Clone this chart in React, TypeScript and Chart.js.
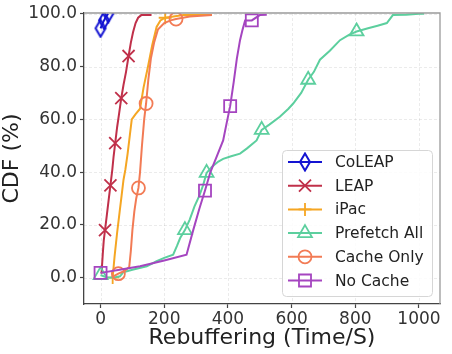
import React, { useEffect, useRef } from "react";
import { Chart, registerables } from "chart.js";

Chart.register(...registerables);

// ---------- data ----------
const seriesNames = ["CoLEAP", "LEAP", "iPac", "Prefetch All", "Cache Only", "No Cache"];

const coleapX = [0, 5, 11, 17, 24];
const coleapY = [94.5, 96, 97.5, 99, 100];

const leapX = [3, 7, 10, 14, 20, 26, 31, 37, 41, 46, 52, 58, 65, 72, 80, 88, 95, 102, 110, 118, 128, 160];
const leapY = [1.5, 9, 14, 18, 24, 30, 35, 41, 46, 51, 57, 62, 68, 73, 78, 84, 89, 93, 96.5, 98.5, 99.5, 99.5];

const ipacX = [38, 44, 52, 60, 66, 72, 78, 85, 92, 98, 110, 124, 135, 149, 162, 176, 188, 203, 260, 350];
const ipacY = [0, 8, 17, 25, 31, 37, 41, 47, 54, 60, 62, 64, 72, 80, 88, 95, 97.5, 98.5, 99.5, 99.5];

const prefetchX = [0, 20, 40, 61, 71, 100, 145, 176, 200, 228, 240, 250, 265, 280, 295, 310, 322, 333, 350, 370, 385, 410, 438, 460, 490, 506, 530, 563, 590, 605, 630, 652, 670, 689, 720, 752, 780, 804, 840, 870, 899, 918, 960, 1000, 1016];
const prefetchY = [1, 0, 0, 0.5, 2, 3, 4.3, 6.2, 7.5, 8.7, 12, 15, 18, 22, 27, 31, 35, 39.7, 42, 44, 45, 46, 47, 49, 52, 56, 58, 61, 64, 66, 70, 75, 78, 82.6, 86, 90, 92, 93.3, 94.5, 95.5, 96.5, 99.5, 99.6, 100, 100];

const cacheOnlyX = [40, 56, 75, 90, 95, 100, 106, 112, 119, 124, 130, 137, 143, 150, 158, 168, 180, 200, 220, 237, 280, 350];
const cacheOnlyY = [0.5, 1.5, 2.5, 4, 10, 18, 25, 30, 34, 40, 50, 60, 66, 75, 83, 89, 94, 96.5, 97.5, 98, 99, 99.5];

const noCacheX = [0, 60, 124, 200, 270, 291, 310, 328, 345, 365, 385, 395, 407, 418, 428, 438, 446, 454, 475, 500, 522];
const noCacheY = [1.8, 3, 4.3, 6.5, 8.7, 18, 26, 33, 40, 46, 52, 58, 65, 74, 83, 90, 94, 97.5, 97.5, 99.5, 99.6];

// which points carry a marker (markevery-like)
const coleapMarks = [0, 2, 4];
const leapMarks = [3, 6, 9, 12, 15];
const ipacMarks = [0, 17];
const prefetchMarks = [0, 12, 17, 25, 31, 37];
const cacheOnlyMarks = [1, 8, 12, 19];
const noCacheMarks = [0, 7, 12, 18];

const xTicks = [0, 200, 400, 600, 800, 1000];
const yTicks = [0, 20, 40, 60, 80, 100];

// ---------- styles ----------
const colors = ["#1414d2", "#c0304a", "#f5a623", "#5ccf9e", "#f27b55", "#a545c0"];
const FONT = "'DejaVu Sans', sans-serif";

function makeDiamond(color: string): HTMLCanvasElement {
  const c = document.createElement("canvas");
  c.width = 14;
  c.height = 20;
  const g = c.getContext("2d")!;
  g.strokeStyle = color;
  g.lineWidth = 2;
  g.beginPath();
  g.moveTo(7, 1.5);
  g.lineTo(12, 10);
  g.lineTo(7, 18.5);
  g.lineTo(2, 10);
  g.closePath();
  g.stroke();
  return c;
}

function drawMarker(ctx: CanvasRenderingContext2D, style: any, x: number, y: number, r: number, color: string) {
  ctx.save();
  ctx.strokeStyle = color;
  ctx.lineWidth = 1.8;
  ctx.beginPath();
  if (typeof style === "object") {
    ctx.drawImage(style, x - style.width / 2, y - style.height / 2);
    ctx.restore();
    return;
  }
  if (style === "circle") {
    ctx.arc(x, y, r, 0, Math.PI * 2);
  } else if (style === "rect") {
    const s = Math.SQRT1_2 * r;
    ctx.rect(x - s, y - s, 2 * s, 2 * s);
  } else if (style === "triangle") {
    ctx.moveTo(x, y - r);
    ctx.lineTo(x + r * Math.sin(Math.PI / 3), y + r * 0.5);
    ctx.lineTo(x - r * Math.sin(Math.PI / 3), y + r * 0.5);
    ctx.closePath();
  } else if (style === "cross") {
    ctx.moveTo(x, y - r);
    ctx.lineTo(x, y + r);
    ctx.moveTo(x - r, y);
    ctx.lineTo(x + r, y);
  } else if (style === "crossRot") {
    const d = r * Math.SQRT1_2;
    ctx.moveTo(x - d, y - d);
    ctx.lineTo(x + d, y + d);
    ctx.moveTo(x + d, y - d);
    ctx.lineTo(x - d, y + d);
  }
  ctx.stroke();
  ctx.restore();
}

export default function App() {
  const ref = useRef<HTMLCanvasElement | null>(null);

  useEffect(() => {
    if (!ref.current) return;
    const diamond = makeDiamond(colors[0]);
    const markerStyles: any[] = [diamond, "crossRot", "cross", "triangle", "circle", "rect"];
    const markerRadii = [7, 8.5, 6.5, 8, 6.5, 8.5];
    const xs = [coleapX, leapX, ipacX, prefetchX, cacheOnlyX, noCacheX];
    const ys = [coleapY, leapY, ipacY, prefetchY, cacheOnlyY, noCacheY];
    const marks = [coleapMarks, leapMarks, ipacMarks, prefetchMarks, cacheOnlyMarks, noCacheMarks];

    const datasets = seriesNames.map((name, k) => ({
      label: name,
      data: xs[k].map((x, i) => ({ x, y: ys[k][i] })),
      showLine: true,
      borderColor: colors[k],
      borderWidth: 2,
      backgroundColor: "rgba(0,0,0,0)",
      pointBorderColor: colors[k],
      pointBackgroundColor: "rgba(0,0,0,0)",
      pointBorderWidth: 1.8,
      pointStyle: xs[k].map((_, i) => (marks[k].includes(i) ? markerStyles[k] : "circle")),
      pointRadius: xs[k].map((_, i) => (marks[k].includes(i) ? markerRadii[k] : 0)),
      pointHoverRadius: 0,
      tension: 0,
      order: seriesNames.length - k,
    }));

    const gridPlugin = {
      id: "mplGrid",
      beforeDatasetsDraw(chart: any) {
        const { ctx, chartArea: a, scales } = chart;
        ctx.save();
        ctx.strokeStyle = "rgba(0,0,0,0.10)";
        ctx.lineWidth = 0.8;
        ctx.setLineDash([3, 2]);
        xTicks.forEach((v) => {
          const px = Math.round(scales.x.getPixelForValue(v)) + 0.5;
          ctx.beginPath();
          ctx.moveTo(px, a.top);
          ctx.lineTo(px, a.bottom);
          ctx.stroke();
        });
        yTicks.forEach((v) => {
          const py = Math.round(scales.y.getPixelForValue(v)) + 0.5;
          ctx.beginPath();
          ctx.moveTo(a.left, py);
          ctx.lineTo(a.right, py);
          ctx.stroke();
        });
        ctx.restore();
      },
    };

    const framePlugin = {
      id: "frameLegend",
      afterDraw(chart: any) {
        const { ctx, chartArea: a } = chart;
        ctx.save();
        // top & right spines
        ctx.strokeStyle = "#9a9a9a";
        ctx.lineWidth = 1.3;
        ctx.beginPath();
        ctx.moveTo(a.left, a.top);
        ctx.lineTo(a.right, a.top);
        ctx.lineTo(a.right, a.bottom);
        ctx.stroke();

        // legend box
        const w = 150;
        const h = 146;
        const lx = a.right - 8 - w;
        const ly = a.bottom - 8 - h;
        ctx.fillStyle = "rgba(255,255,255,0.85)";
        ctx.strokeStyle = "#d6d6d6";
        ctx.lineWidth = 1;
        ctx.beginPath();
        (ctx as any).roundRect(lx + 0.5, ly + 0.5, w, h, 4);
        ctx.fill();
        ctx.stroke();

        const rowH = 23.7;
        ctx.font = `15.5px ${FONT}`;
        ctx.textBaseline = "middle";
        ctx.textAlign = "left";
        seriesNames.forEach((name, k) => {
          const cy = ly + 12 + k * rowH;
          ctx.strokeStyle = colors[k];
          ctx.lineWidth = 2;
          ctx.beginPath();
          ctx.moveTo(lx + 6, cy);
          ctx.lineTo(lx + 40, cy);
          ctx.stroke();
          drawMarker(ctx, markerStyles[k], lx + 23, cy, markerRadii[k], colors[k]);
          ctx.fillStyle = "#222";
          ctx.fillText(name, lx + 53, cy + 1);
        });
        ctx.restore();
      },
    };

    const chart = new Chart(ref.current, {
      type: "scatter",
      data: { datasets: datasets as any },
      options: {
        animation: false,
        responsive: false,
        maintainAspectRatio: false,
        layout: { padding: { left: 0, top: 13, right: 12, bottom: 0 } },
        plugins: { legend: { display: false }, tooltip: { enabled: false } },
        scales: {
          x: {
            type: "linear",
            min: -52,
            max: 1066,
            afterBuildTicks: (s: any) => {
              s.ticks = xTicks.map((v) => ({ value: v }));
            },
            afterFit: (s: any) => {
              s.height = 50;
              s.paddingRight = 0;
              s.paddingLeft = 0;
            },
            ticks: {
              autoSkip: false,
              maxRotation: 0,
              padding: 1,
              color: "#333",
              font: { family: FONT, size: 17 },
              callback: (v: any) => String(v),
            },
            grid: { drawOnChartArea: false, drawTicks: true, tickLength: 4, tickColor: "#444", tickWidth: 1.2 },
            border: { display: true, color: "#444", width: 1.3 },
            title: {
              display: true,
              text: "Rebuffering (Time/S)",
              color: "#222",
              font: { family: FONT, size: 22 },
              padding: { top: 0, bottom: 3 },
            },
          },
          y: {
            type: "linear",
            min: -10,
            max: 100.3,
            afterBuildTicks: (s: any) => {
              s.ticks = yTicks.map((v) => ({ value: v }));
            },
            afterFit: (s: any) => {
              s.width = 84;
              s.paddingTop = 0;
              s.paddingBottom = 0;
            },
            ticks: {
              padding: 3,
              color: "#333",
              font: { family: FONT, size: 17 },
              callback: (v: any) => Number(v).toFixed(1),
            },
            grid: { drawOnChartArea: false, drawTicks: true, tickLength: 4, tickColor: "#444", tickWidth: 1.2 },
            border: { display: true, color: "#444", width: 1.3 },
            title: {
              display: true,
              text: "CDF (%)",
              color: "#222",
              font: { family: FONT, size: 22, lineHeight: 1 },
              padding: { top: 1, bottom: 0 },
            },
          },
        },
      },
      plugins: [gridPlugin, framePlugin],
    });
    return () => chart.destroy();
  }, []);

  return (
    <div style={{ position: "absolute", left: 0, top: 0, width: 452, height: 354 }}>
      <canvas ref={ref} width={452} height={354} />
    </div>
  );
}
